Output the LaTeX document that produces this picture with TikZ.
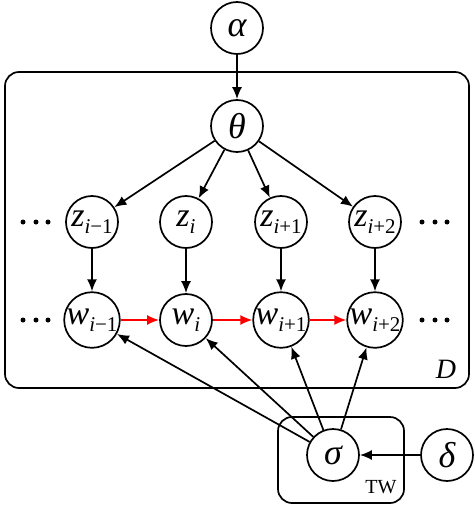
\documentclass[tikz,border=0pt]{standalone}
\usepackage{fontspec}
\setmainfont{Liberation Serif}
\usetikzlibrary{arrows.meta}
\newcommand\vsub[2]{{\itshape #1}\raisebox{-0.45ex}{\fontsize{21}{21}\selectfont\itshape #2}}
\begin{document}
\begin{tikzpicture}[x=1pt,y=-1pt,
  var/.style={circle,draw,line width=1.7pt,minimum size=52pt,inner sep=0pt,font=\fontsize{34}{36}\selectfont},
  gvar/.style={var,font=\fontsize{36}{38}\selectfont\itshape},
  plate/.style={draw,line width=1.7pt,rounded corners=14pt},
  arr/.style={line width=1.7pt,-{Latex[length=12pt,width=10pt]}},
  rarr/.style={arr,red},
  dot/.style={circle,fill,inner sep=0pt,minimum size=5pt}]
\useasboundingbox (0,0) rectangle (474,505);
\draw[plate] (5,72) rectangle (469,388);
\draw[plate] (278,417) rectangle (404,503);
\node[font=\fontsize{28}{30}\selectfont\itshape] (Dlab) at (446,369) {D};
\node[font=\fontsize{20}{22}\selectfont] (TWlab) at (381,487) {TW};
\node[gvar] (alpha) at (237,28) {α};
\node[gvar] (theta) at (237,126) {θ};
\node[var] (z1) at (92,222) {\vsub{z}{i\upshape −1}};
\node[var] (z2) at (186,222) {\vsub{z}{i}};
\node[var] (z3) at (281,222) {\vsub{z}{i\upshape +1}};
\node[var] (z4) at (375,222) {\vsub{z}{i\upshape +2}};
\node[var] (w1) at (92,320) {\vsub{w}{i\upshape −1}};
\node[var] (w2) at (186,320) {\vsub{w}{i}};
\node[var] (w3) at (281,320) {\vsub{w}{i\upshape +1}};
\node[var] (w4) at (375,320) {\vsub{w}{i\upshape +2}};
\node[gvar] (sigma) at (333,455) {σ};
\node[gvar] (delta) at (447,455) {δ};
\foreach \n/\x in {a/23,b/36,c/48,d/422,e/435,f/447} {
  \node[dot] (dz\n) at (\x,222) {};
  \node[dot] (dw\n) at (\x,320) {};
}
\draw[arr] (alpha) -- (theta);
\foreach \i in {1,2,3,4} {
  \draw[arr] (theta) -- (z\i);
  \draw[arr] (z\i) -- (w\i);
  \draw[arr] (sigma) -- (w\i);
}
\draw[rarr] (w1) -- (w2);
\draw[rarr] (w2) -- (w3);
\draw[rarr] (w3) -- (w4);
\draw[arr] (delta) -- (sigma);
\end{tikzpicture}
\end{document}
